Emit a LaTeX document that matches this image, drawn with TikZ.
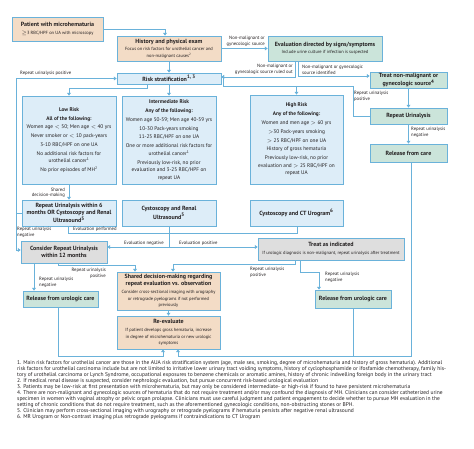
\documentclass[tikz,border=0pt]{standalone}
\usepackage{fontspec}
\setmainfont{PT Sans}
\usetikzlibrary{arrows.meta}

\definecolor{boxline}{HTML}{6AB2DA}
\definecolor{tanfill}{HTML}{F3DCC6}
\definecolor{bluefill}{HTML}{DDEDF8}
\definecolor{greenfill}{HTML}{CBE4DA}
\definecolor{grayfill}{HTML}{DEDEDE}
\definecolor{txt}{HTML}{231F20}

\newcommand{\ttlfont}{\fontsize{6}{6.6}\selectfont\bfseries}
\newcommand{\subfont}{\fontsize{4.5}{5.6}\selectfont\mdseries}
\newcommand{\itemfont}{\fontsize{5.3}{8.8}\selectfont}
\newcommand{\lblfont}{\fontsize{4.7}{5.6}\selectfont}
\newcommand{\notefont}{\fontsize{5.5}{4.8}\selectfont}

\tikzset{
  box/.style={draw=boxline, line width=0.75pt, align=center, inner sep=1pt, text=txt, font=\ttlfont},
  tanbox/.style={box, fill=tanfill},
  bluebox/.style={box, fill=bluefill},
  greenbox/.style={box, fill=greenfill},
  graybox/.style={box, fill=grayfill},
  riskbox/.style={bluebox, font=\itemfont},
  conn/.style={draw=boxline, line width=0.75pt},
  arr/.style={conn, -{Triangle[width=3.8pt,length=2.8pt]}},
  lbl/.style={font=\lblfont, text=txt, inner sep=0pt, align=left}
}

\begin{document}
\begin{tikzpicture}[x=1pt, y=-1pt]
  \useasboundingbox (0,0) rectangle (474,449);

  % top row
  \node[tanbox, minimum width=91, minimum height=24] (patient) at (57.5,29)
    {Patient with microhematuria\\[1pt]\subfont $\geq$3 RBC/HPF on UA with microscopy};
  \node[tanbox, minimum width=104, minimum height=25] (history) at (169,48.5)
    {History and physical exam\\[1pt]\subfont Focus on risk factors for urothelial cancer and\\\subfont non-malignant causes\textsuperscript{2}};
  \node[greenbox, minimum width=114, minimum height=25] (eval) at (325,48.5)
    {Evaluation directed by signs/symptoms\\[1pt]\subfont Include urine culture if infection is suspected};
  \node[bluebox, minimum width=104, minimum height=11] (risk) at (169,78.5)
    {Risk stratification\textsuperscript{1, 3}};

  % right column
  \node[greenbox, minimum width=77, minimum height=16] (treatnm) at (408.5,80)
    {Treat non-malignant or\\gynecologic source\textsuperscript{4}};
  \node[greenbox, minimum width=77, minimum height=16] (repeatua) at (408.5,116) {Repeat Urinalysis};
  \node[greenbox, minimum width=77, minimum height=18] (release) at (408.5,153) {Release from care};

  % risk groups
  \node[riskbox, minimum width=94, minimum height=88] (low) at (69,140)
    {\textbf{Low Risk}\\\textbf{All of the following:}\\
     Women age $<$ 50; Men age $<$ 40 yrs\\
     Never smoker or $<$ 10 pack-years\\
     3-10 RBC/HPF on one UA\\
     No additional risk factors for\\[-1.3pt]urothelial cancer\textsuperscript{1}\\
     No prior episodes of MH\textsuperscript{2}};
  \node[riskbox, minimum width=94, minimum height=88] (inter) at (169,140)
    {\textbf{Intermediate Risk}\\\textbf{Any of the following:}\\
     Women age 50-59; Men age 40-59 yrs\\
     10-30 Pack-years smoking\\
     11-25 RBC/HPF on one UA\\
     One or more additional risk factors for\\[-1.3pt]urothelial cancer\textsuperscript{1}\\
     Previously low-risk, no prior\\[-1.3pt]evaluation and 3-25 RBC/HPF on\\[-1.3pt]repeat UA};
  \node[riskbox, minimum width=93, minimum height=89] (high) at (296.5,139.5)
    {\textbf{High Risk}\\\textbf{Any of the following:}\\
     Women and men age $>$ 60 yrs\\
     $>$30 Pack-years smoking\\
     $>$ 25 RBC/HPF on one UA\\
     History of gross hematuria\\
     Previously low-risk, no prior\\[-1.3pt]evaluation and $>$ 25 RBC/HPF on\\[-1.3pt]repeat UA};

  % work-up row
  \node[bluebox, minimum width=94, minimum height=26] (repeat6) at (69,213)
    {Repeat Urinalysis within 6\\months OR Cystoscopy and Renal\\Ultrasound\textsuperscript{5}};
  \node[bluebox, minimum width=94, minimum height=26] (cystorenal) at (169,213)
    {Cystoscopy and Renal\\Ultrasound\textsuperscript{5}};
  \node[bluebox, minimum width=93, minimum height=26] (cystoct) at (296.5,213)
    {Cystoscopy and CT Urogram\textsuperscript{6}};

  % follow-up
  \node[graybox, minimum width=86, minimum height=22] (consider) at (64,252)
    {Consider Repeat Urinalysis\\within 12 months};
  \node[graybox, minimum width=146, minimum height=22] (treat) at (331,249)
    {Treat as indicated\\[1pt]\subfont If urologic diagnosis is non-malignant, repeat urinalysis after treatment};
  \node[greenbox, minimum width=75, minimum height=16] (releaseL) at (60.5,299) {Release from urologic care};
  \node[greenbox, minimum width=76, minimum height=18] (releaseR) at (353,299) {Release from urologic care};
  \node[tanbox, minimum width=103, minimum height=38] (shared) at (168.5,291)
    {Shared decision-making regarding\\repeat evaluation vs. observation\\[1.5pt]\subfont Consider cross-sectional imaging with urography\\\subfont or retrograde pyelograms if not performed\\\subfont previously};
  \node[tanbox, minimum width=103, minimum height=33] (reeval) at (168.5,332.5)
    {Re-evaluate\\[1.5pt]\subfont If patient develops gross hematuria, increase\\\subfont in degree of microhematuria or new urologic\\\subfont symptoms};

  % connectors, top
  \draw[arr] (patient.east) -| ([xshift=-4]history.north);
  \draw[arr] (history) -- (risk);
  \draw[arr] (history) -- (eval);
  \node[lbl, align=right, anchor=south east] (lgyn) at (265,46.5) {Non-malignant or\\gynecologic source};
  \draw[arr] ([xshift=-30]eval.south) |- ([yshift=1.5]risk.east);
  \node[lbl, align=right, anchor=south east] (lout) at (293,74.5) {Non-malignant or\\gynecologic source ruled out};
  \draw[arr] ([xshift=-27]eval.south) |- ([yshift=4]treatnm.west);
  \node[lbl, anchor=south west] (lident) at (302,74.5) {Non-malignant or gynecologic\\source identified};
  \draw[arr] (treatnm) -- (repeatua);
  \draw[arr] (repeatua) -- (release);
  \node[lbl, anchor=north west] (lrneg) at (411,127) {Repeat urinalysis\\negative};

  % risk stratification branches
  \coordinate (rj) at (353,86);
  \coordinate (rk) at (223,86);
  \draw[arr] ([xshift=-22]risk.south) -- ++(0,4) -| (low.north);
  \draw[arr] (risk) -- (inter);
  \draw[arr] (repeatua.west) -| (rj) -- (rk) |- ([yshift=1.5]risk.east);
  \draw[arr] (high.north |- rj) -- (high.north);
  \node[lbl, anchor=north west] (lrpos) at (354,91) {Repeat urinalysis\\positive};

  % low risk path
  \coordinate (lside) at (16,213);
  \draw[arr] (low) -- (repeat6);
  \node[lbl, align=right, anchor=south east] (lsdm) at (65,198) {Shared\\decision-making};
  \draw[conn] (repeat6.west) -- (lside);
  \draw[arr] (lside) |- (risk.west);
  \node[lbl, anchor=south west] (lpos) at (20,76) {Repeat urinalysis positive};
  \draw[arr] (lside) |- ([yshift=2]consider.west);
  \node[lbl, anchor=north west] (lneg) at (17,227) {Repeat urinalysis\\negative};

  % evaluation results
  \coordinate (evk) at (169,233);
  \coordinate (evj) at (169,247);
  \draw[conn] ([xshift=-1]repeat6.south) |- (evk);
  \draw[conn] ([xshift=0.5]cystoct.south) |- (evk);
  \draw[conn] (cystorenal.south) -- (evj);
  \node[lbl, anchor=south west] (lperf) at (73,232) {Evaluation performed};
  \draw[arr] (evj) -- (consider.east |- evj);
  \draw[arr] (evj) -- (treat.west |- evj);
  \node[lbl, anchor=south east] (levneg) at (164,245.5) {Evaluation negative};
  \node[lbl, anchor=south west] (levpos) at (179,245.5) {Evaluation positive};

  % follow-up connectors
  \draw[arr] ([xshift=-6]consider.south) -- ++(0,2) -| ([xshift=-33.5]shared.north);
  \node[lbl, align=right, anchor=north east] (lcpos) at (106,268) {Repeat urinalysis\\positive};
  \draw[arr] ([xshift=-30]consider.south) -- ([xshift=-30]consider.south |- releaseL.north);
  \node[lbl, anchor=north west] (lcneg) at (39,277) {Repeat urinalysis\\negative};
  \draw[arr] ([xshift=-36]treat.south) -- ++(0,4) -| ([xshift=4.5]shared.north);
  \node[lbl, anchor=north west] (ltpos) at (250,267) {Repeat urinalysis\\positive};
  \draw[arr] ([xshift=-31]treat.south) -- ++(0,12) -| ([xshift=-34]releaseR.north);
  \node[lbl, anchor=north west] (ltneg) at (325,272) {Repeat urinalysis\\negative};
  \draw[arr] (shared) -- (reeval);

  % back to re-evaluate
  \coordinate (botL) at (163,356);
  \coordinate (botR) at (178,356);
  \draw[arr] ([xshift=-2.5]releaseL.south) |- (botL) -- (botL |- reeval.south);
  \draw[arr] ([xshift=2.5]release.south) |- (botR) -- (botR |- reeval.south);
  \draw[conn] (releaseR.south) -- (releaseR.south |- botR);

  % footnotes
  \node[font=\notefont, text=txt, align=left, inner sep=0pt, anchor=north west] (notes) at (17,360)
    {1. Main risk factors for urothelial cancer are those in the AUA risk stratification system (age, male sex, smoking, degree of microhematuria and history of gross hematuria). Additional\\
     risk factors for urothelial carcinoma include but are not limited to irritative lower urinary tract voiding symptoms, history of cyclophosphamide or ifosfamide chemotherapy, family his-\\
     tory of urothelial carcinoma or Lynch Syndrome, occupational exposures to benzene chemicals or aromatic amines, history of chronic indwelling foreign body in the urinary tract\\
     2. If medical renal disease is suspected, consider nephrologic evaluation, but pursue concurrent risk-based urological evaluation\\
     3. Patients may be low-risk at first presentation with microhematuria, but may only be considered intermediate- or high-risk if found to have persistent microhematuria\\
     4. There are non-malignant and gynecologic sources of hematuria that do not require treatment and/or may confound the diagnosis of MH. Clinicians can consider catheterized urine\\
     specimen in women with vaginal atrophy or pelvic organ prolapse. Clinicians must use careful judgment and patient engagement to decide whether to pursue MH evaluation in the\\
     setting of chronic conditions that do not require treatment, such as the aforementioned gynecologic conditions, non-obstructing stones or BPH.\\
     5. Clinician may perform cross-sectional imaging with urography or retrograde pyelograms if hematuria persists after negative renal ultrasound\\
     6. MR Urogram or Non-contrast imaging plus retrograde pyelograms if contraindications to CT Urogram};
\end{tikzpicture}
\end{document}
